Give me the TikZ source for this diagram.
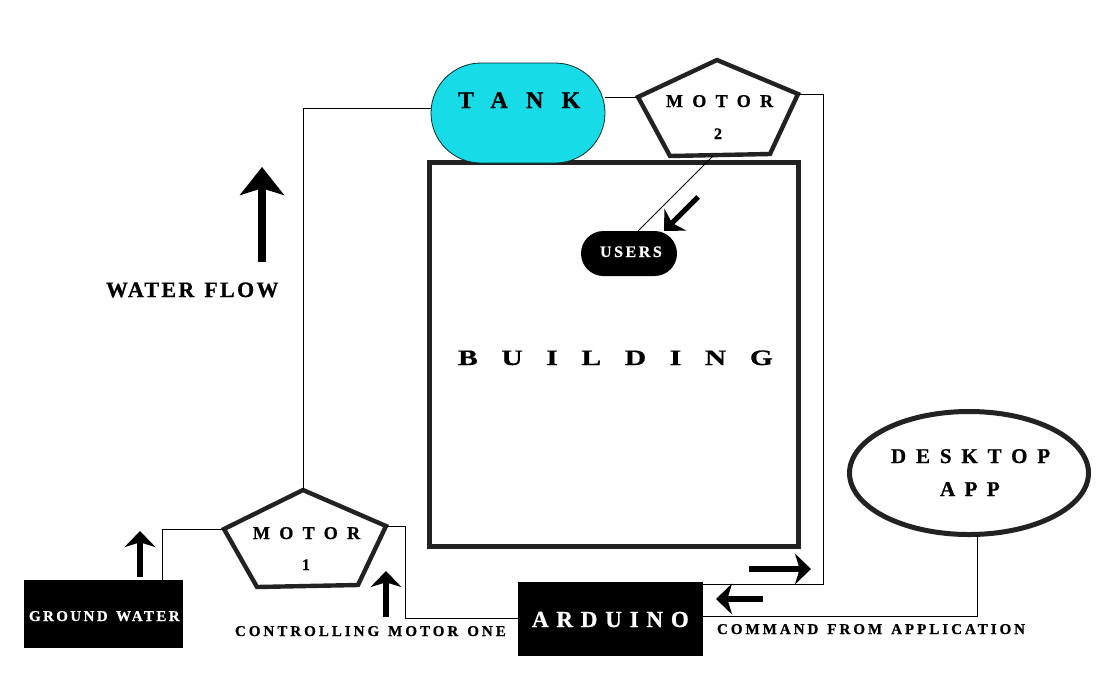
\documentclass[tikz,border=0pt]{standalone}
\usepackage{fontspec}
\setmainfont{Liberation Serif}
\usetikzlibrary{arrows.meta,shapes.geometric}
\definecolor{tankcyan}{HTML}{17DCE8}
\definecolor{shapeink}{HTML}{222222}
\newcommand{\px}[1]{#1*0.75pt}
\newcommand{\wgap}{\hspace{1.7pt} }
\tikzset{
  thinwire/.style={draw=black,line width=0.55pt,line join=miter},
  pentagonline/.style={draw=shapeink,line width=3.3pt,line join=miter,fill=white},
  blackbox/.style={fill=black,inner sep=0pt,outer sep=0pt},
  lab/.style={inner sep=0pt,outer sep=0pt,anchor=base west,text=black},
  labw/.style={lab,text=white},
  flowbig/.style={line width=6pt,-{Stealth[length=21pt,width=33pt,inset=5pt]}},
  flowsmall/.style={line width=3.8pt,-{Stealth[length=12pt,width=23pt,inset=3.5pt]}},
}
\newcommand{\spaced}[3]{\fontsize{#1}{#1}\selectfont\bfseries\addfontfeature{LetterSpace=#2,FakeBold=0.8}#3}
\newcommand{\spacedwide}[4]{\fontsize{#1}{#1}\selectfont\bfseries\addfontfeature{LetterSpace=#2,FakeBold=0.8,FakeStretch=#4}#3}
\begin{document}
\begin{tikzpicture}[x=0.75pt,y=-0.75pt]
\useasboundingbox (0,0) rectangle (1112,686);
% building
\node[draw=shapeink,line width=3.75pt,inner sep=0pt,outer sep=0pt,minimum width=\px{369},minimum height=\px{384}] (building) at (614,354.5) {};
% tank
\node[draw=black!80!tankcyan,line width=0.6pt,fill=tankcyan,rounded corners=\px{50},inner sep=0pt,outer sep=0pt,minimum width=\px{174},minimum height=\px{100}] (tank) at (518,113) {};
% users
\node[blackbox,rounded corners=\px{22.5},minimum width=\px{96},minimum height=\px{45}] (users) at (629,253.5) {};
% ground water
\node[blackbox,minimum width=\px{159},minimum height=\px{68}] (ground) at (103.5,614) {};
% arduino
\node[blackbox,minimum width=\px{185},minimum height=\px{74}] (arduino) at (610.5,619) {};
% desktop app
\node[ellipse,draw=shapeink,line width=3.75pt,fill=white,inner sep=0pt,outer sep=0pt,minimum width=\px{239},minimum height=\px{123}] (desktop) at (969,473) {};
% motor 2
\coordinate (m2t) at (717,60);
\coordinate (m2r) at (798,94);
\coordinate (m2br) at (770,154);
\coordinate (m2bl) at (670,156);
\coordinate (m2l) at (638,97);
\draw[pentagonline] (m2t) -- (m2r) -- (m2br) -- (m2bl) -- (m2l) -- cycle;
% motor 1
\coordinate (m1t) at (303,490);
\coordinate (m1r) at (386,526);
\coordinate (m1br) at (358,585);
\coordinate (m1bl) at (257,587);
\coordinate (m1l) at (224,529);
\draw[pentagonline] (m1t) -- (m1r) -- (m1br) -- (m1bl) -- (m1l) -- cycle;
% connectors
\coordinate (m2b) at (713,156);
\coordinate (tankw) at (431,108);
\coordinate (tanke) at (605,97);
\coordinate (usert) at (638,231);
\coordinate (ardA) at (703,584);
\coordinate (ardB) at (703,616);
\coordinate (ardC) at (518,618);
\coordinate (gwt) at (162,580);
\coordinate (cornerR) at (823,94);
\coordinate (cornerM) at (405,526);
\coordinate (desk) at (977,535);
\draw[thinwire] (tankw) -| (m1t);
\draw[thinwire] (tanke) -- (m2l);
\draw[thinwire] (m2r) -- (cornerR) |- (ardA);
\draw[thinwire] (m2b) -- (usert);
\draw[thinwire] (gwt) |- (m1l);
\draw[thinwire] (m1r) -- (cornerM) |- (ardC);
\draw[thinwire] (desk) |- (ardB);
% arrows
\coordinate (a1s) at (262,262); \coordinate (a1e) at (262,167);
\coordinate (a2s) at (140,577); \coordinate (a2e) at (140,531);
\coordinate (a3s) at (386,617); \coordinate (a3e) at (386,571);
\coordinate (a4s) at (749,569); \coordinate (a4e) at (811,569);
\coordinate (a5s) at (763,599); \coordinate (a5e) at (716,599);
\coordinate (a6s) at (698,197); \coordinate (a6e) at (664,231);
\draw[flowbig] (a1s) -- (a1e);
\draw[flowsmall] (a2s) -- (a2e);
\draw[flowsmall] (a3s) -- (a3e);
\draw[flowsmall] (a4s) -- (a4e);
\draw[flowsmall] (a5s) -- (a5e);
\draw[flowsmall] (a6s) -- (a6e);
% labels
\node[lab] (ltank) at (458,108) {\spaced{18pt}{76}{TANK}};
\node[lab] (lm2) at (666,107) {\spaced{13.5pt}{52}{MOTOR}};
\node[lab] (lm2n) at (714,139) {\spaced{12pt}{0}{2}};
\node[lab] (lm1) at (253,539) {\spaced{13.5pt}{52}{MOTOR}};
\node[lab] (lm1n) at (302,570) {\spaced{12pt}{0}{1}};
\node[labw] (lusers) at (600,257) {\spaced{12pt}{16}{USERS}};
\node[lab] (lbuilding) at (458,365) {\spacedwide{16.5pt}{107}{BUILDING}{1.35}};
\node[labw] (lground) at (29,621) {\spaced{11.25pt}{16}{GROUND\wgap WATER}};
\node[lab] (lcontrol) at (235,636) {\spaced{11.25pt}{20}{CONTROLLING\wgap MOTOR\wgap ONE}};
\node[lab] (lcommand) at (717,634) {\spaced{11.25pt}{20}{COMMAND\wgap FROM\wgap APPLICATION}};
\node[labw] (lard) at (532,627) {\spaced{17.25pt}{34}{ARDUINO}};
\node[lab] (ldesk) at (891,463) {\spaced{15.75pt}{47}{DESKTOP}};
\node[lab] (lapp) at (940,496) {\spaced{15.75pt}{45}{APP}};
\node[lab] (lflow) at (106,297) {\spaced{16.5pt}{10.5}{WATER\wgap FLOW}};
\end{tikzpicture}
\end{document}
